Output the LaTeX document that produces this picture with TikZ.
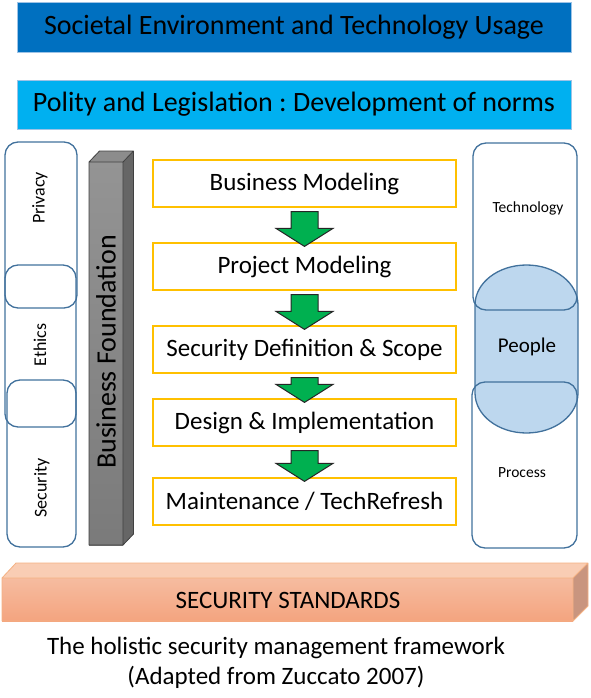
\documentclass[tikz,border=0pt]{standalone}
\usepackage{fontspec}
\setmainfont{Carlito}
\usepackage{tikz}
\usetikzlibrary{calc, positioning}
\definecolor{bluScuro}{HTML}{0070C0}
\definecolor{bluChiaro}{HTML}{00B0F0}
\definecolor{bordoFascia}{HTML}{9DC3E6}
\definecolor{arancio}{HTML}{FFC000}
\definecolor{verde}{HTML}{00B050}
\definecolor{bluBordo}{HTML}{41719C}
\definecolor{azzurroPersone}{HTML}{BDD7EE}
\definecolor{salmoneTop}{HTML}{F9CDB4}
\definecolor{salmoneAlto}{HTML}{F6BCA0}
\definecolor{salmoneBasso}{HTML}{F4A47F}
\definecolor{salmoneLato}{HTML}{C9957F}
\definecolor{salmoneBordo}{HTML}{F4B183}
\frenchspacing
\newcommand{\frecciaGiu}[2]{
\draw[freccia] ($(#1.south)+(-13.5,4)$) -- ($(#1.south)+(13.5,4)$) -- ($(#2.north)+(13.5,-14)$) -- ($(#2.north)+(28.5,-14)$) -- ($(#2.north)+(0,4)$) -- ($(#2.north)+(-28.5,-14)$) -- ($(#2.north)+(-13.5,-14)$) -- cycle;
}
\tikzset{
  fascia/.style={fill=#1, draw=bordoFascia, line width=0.8pt, minimum width=554pt, minimum height=50pt, inner sep=0pt, font=\fontsize{28}{32}\selectfont},
  fase/.style={draw=arancio, fill=white, line width=1.2pt, minimum width=303pt, minimum height=47pt, inner sep=0pt, font=\fontsize{25}{30}\selectfont},
  freccia/.style={fill=verde, draw=black!85, line width=1pt, line join=miter},
  colonna/.style={draw=bluBordo, line width=1.3pt, rounded corners=13pt},
  etichetta/.style={font=\fontsize{18}{22}\selectfont},
}
\begin{document}
\begin{tikzpicture}[x=1pt, y=-1pt]
    \useasboundingbox (0,0) rectangle (590,698);
    % Parametri
    \pgfmathsetmacro{\fx}{89}
    \pgfmathsetmacro{\fw}{34}
    \pgfmathsetmacro{\d}{10.5}
    % Fasce in alto
    \node[fascia=bluScuro] (societa) at (294,27) {Societal Environment and Technology Usage};
    \node[fascia=bluChiaro, minimum height=49pt] (polity) at (294,104.5) {Polity and Legislation : Development of norms};
    % Colonna a sinistra
    \draw[colonna] (5,142) rectangle (77,308);
    \draw[colonna] (5,265) rectangle (76,427);
    \draw[colonna] (7,380) rectangle (76,547);
    \node[etichetta, rotate=90] (privacy) at (40,198) {Privacy};
    \node[etichetta, rotate=90] (ethics) at (40,345) {Ethics};
    \node[etichetta, rotate=90] (security) at (42,488) {Security};
    % Business Foundation
    \fill[black!60] (\fx+\fw,162) -- (\fx+\fw+\d,151) -- (\fx+\fw+\d,534) -- (\fx+\fw,545) -- cycle;
    \fill[black!45] (\fx,162) -- (\fx+\d,151) -- (\fx+\fw+\d,151) -- (\fx+\fw,162) -- cycle;
    \shade[top color=black!42, bottom color=black!52] (\fx,162) rectangle (\fx+\fw,545);
    \draw[black!75, line width=0.8pt, line join=round] (\fx,162) -- (\fx+\d,151) -- (\fx+\fw+\d,151) -- (\fx+\fw+\d,534) -- (\fx+\fw,545) -- (\fx,545) -- cycle (\fx,162) -- (\fx+\fw,162) -- (\fx+\fw+\d,151) (\fx+\fw,162) -- (\fx+\fw,545);
    \node[rotate=90, font=\fontsize{28}{32}\selectfont] (foundation) at (106,352) {Business Foundation};
    % Fasi al centro
    \node[fase] (bm) at (304.5,183.5) {Business Modeling};
    \node[fase] (pm) at (304.5,266.5) {Project Modeling};
    \node[fase] (sd) at (304.5,349.5) {Security Definition \& Scope};
    \node[fase] (di) at (304.5,422.5) {Design \& Implementation};
    \node[fase] (mt) at (304.5,501.5) {Maintenance / TechRefresh};
    \frecciaGiu{bm}{pm}
    \frecciaGiu{pm}{sd}
    \frecciaGiu{sd}{di}
    \frecciaGiu{di}{mt}
    % Colonna a destra
    \fill[azzurroPersone] (475,305) arc[start angle=180, end angle=0, x radius=51.5, y radius=-40] -- (578,393) arc[start angle=0, end angle=-180, x radius=51.5, y radius=-40] -- cycle;
    \draw[colonna] (473,143) rectangle (577,310);
    \draw[colonna] (472,382) rectangle (577,548);
    \draw[draw=bluBordo, line width=1.3pt] (475,305) arc[start angle=180, end angle=0, x radius=51.5, y radius=-40] -- (578,393) arc[start angle=0, end angle=-180, x radius=51.5, y radius=-40] -- cycle;
    \node[etichetta, font=\fontsize{15.5}{19}\selectfont] (technology) at (528,208) {Technology};
    \node[font=\fontsize{21}{25}\selectfont] (people) at (527,347) {People};
    \node[etichetta, font=\fontsize{15.5}{19}\selectfont] (process) at (522,473) {Process};
    % Standard in basso
    \fill[salmoneLato] (573,578) -- (588,563) -- (588,606) -- (573,621) -- cycle;
    \fill[salmoneTop] (2,578) -- (16,563) -- (588,563) -- (573,578) -- cycle;
    \shade[top color=salmoneAlto, bottom color=salmoneBasso] (2,578) rectangle (573,621);
    \draw[salmoneBordo, line width=0.8pt, line join=round] (2,578) -- (16,563) -- (588,563) -- (588,606) -- (573,621) -- (2,621) -- cycle (2,578) -- (573,578) -- (588,563) (573,578) -- (573,621);
    \node[font=\fontsize{25}{30}\selectfont] (standard) at (288,600) {SECURITY STANDARDS};
    % Didascalia
    \node[anchor=north, inner sep=0pt, align=center, font=\fontsize{25}{30}\selectfont] (didascalia) at (276,637) {The holistic security management framework\\(Adapted from Zuccato 2007)};
\end{tikzpicture}
\end{document}
